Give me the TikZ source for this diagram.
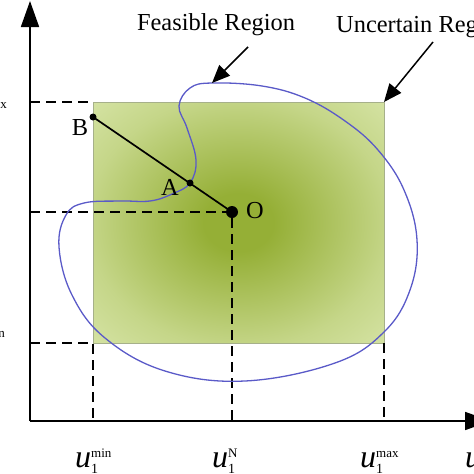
\documentclass[tikz,border=0pt]{standalone}
\usepackage{fontspec}
\setmainfont{Liberation Serif}
\usetikzlibrary{arrows.meta,calc}
\definecolor{regCol}{HTML}{5A5AC8}
\definecolor{boxIn}{HTML}{95AF36}
\definecolor{boxOut}{HTML}{D5E3A4}
\definecolor{boxEdge}{HTML}{A6B08A}
\pgfdeclareradialshading{boxshade}{\pgfpoint{0bp}{0bp}}{%
  color(0bp)=(boxIn); color(6bp)=(boxIn); color(26bp)=(boxOut!75!boxIn);
  color(36bp)=(boxOut); color(50bp)=(boxOut)}
\newcommand{\ulab}[2]{{\fontsize{32}{32}\selectfont\itshape u}%
  \rlap{\raisebox{-6pt}{\fontsize{14}{14}\selectfont #1}}%
  \raisebox{10pt}{\fontsize{13}{13}\selectfont #2}}
\tikzset{
  axis/.style={line width=1.7pt, -{Triangle[length=26pt,width=18pt]}},
  guide/.style={dash pattern=on 10pt off 6pt, line width=1.4pt},
  region/.style={regCol, line width=1.3pt},
  pt/.style={circle, fill=black, inner sep=0pt, minimum size=#1},
  lbl/.style={font=\fontsize{24.4}{24.4}\selectfont, inner sep=0pt},
  ptr/.style={-{Triangle[length=18pt,width=15pt]}, line width=1.5pt},
  tick/.style={inner sep=0pt},
}

\begin{document}
\begin{tikzpicture}[x=1pt,y=-1pt]
  \useasboundingbox (0,0) rectangle (474,474);
  \coordinate (orig) at (30,421);
  \coordinate (ytip) at (30,1);
  \coordinate (xtip) at (491,421);
  \coordinate (ll) at (93,343);
  \coordinate (ur) at (384,102);
  \coordinate (pO) at (232,212);
  \coordinate (pA) at (190,183);
  \coordinate (pB) at (93,117);
  \coordinate (ftop) at (212,83);

  % uncertain region (box)
  \shade[shading=boxshade, draw=boxEdge, line width=0.8pt] (ll) rectangle (ur);

  % guides
  \draw[guide] (ur -| orig) -- (ur -| ll);
  \draw[guide] (orig |- ll) -- (ll) -- (ll |- orig);
  \draw[guide] (orig |- pO) -- (pO) -- (pO |- orig);
  \draw[guide] (ur |- ll) -- (ur |- orig);

  % feasible region
  \draw[region] plot[smooth cycle, tension=0.65] coordinates {
    (ftop) (262,86) (305,98) (345,121) (378,150) (404,190) (417,240)
    (410,290) (384,332) (335,363) (245,381) (165,371) (105,338) (72,295)
    (59,247) (66,215) (84,203) (120,201) (150,201) (172,194) (pA)
    (196,160) (187,128) (179,106) (190,88)};

  \draw[axis] (orig) -- (ytip);
  \draw[axis] (orig) -- (xtip);

  \draw[line width=1.7pt] (pB) -- (pO);
  \node[pt=12pt] (O) at (pO) {};
  \node[pt=7pt] (A) at (pA) {};
  \node[pt=7pt] (B) at (pB) {};
  \node[lbl] (Otxt) at (255,211) {O};
  \node[lbl] (Atxt) at (170,187) {A};
  \node[lbl] (Btxt) at (80,128) {B};

  \node[lbl] (flab) at (216,25) {Feasible Region};
  \node[lbl, anchor=west] (ulab) at (336,27) {Uncertain Region};
  \coordinate (fptr) at (248,47);
  \coordinate (uptr) at (433,42);
  \draw[ptr] (fptr) -- (ftop);
  \draw[ptr] (uptr) -- (ur);

  \node[tick, anchor=base east] (u2max) at (7,118) {\ulab{2}{max}};
  \node[tick, anchor=base east] (u2min) at (5,347) {\ulab{2}{min}};
  \node[tick, anchor=base west] (u1min) at (75,467) {\ulab{1}{min}};
  \node[tick, anchor=base west] (u1n) at (212,467) {\ulab{1}{N}};
  \node[tick, anchor=base west] (u1max) at (360,467) {\ulab{1}{max}};
  \node[tick, anchor=base west] (u1) at (465,467) {\fontsize{32}{32}\selectfont\itshape u};
\end{tikzpicture}
\end{document}
